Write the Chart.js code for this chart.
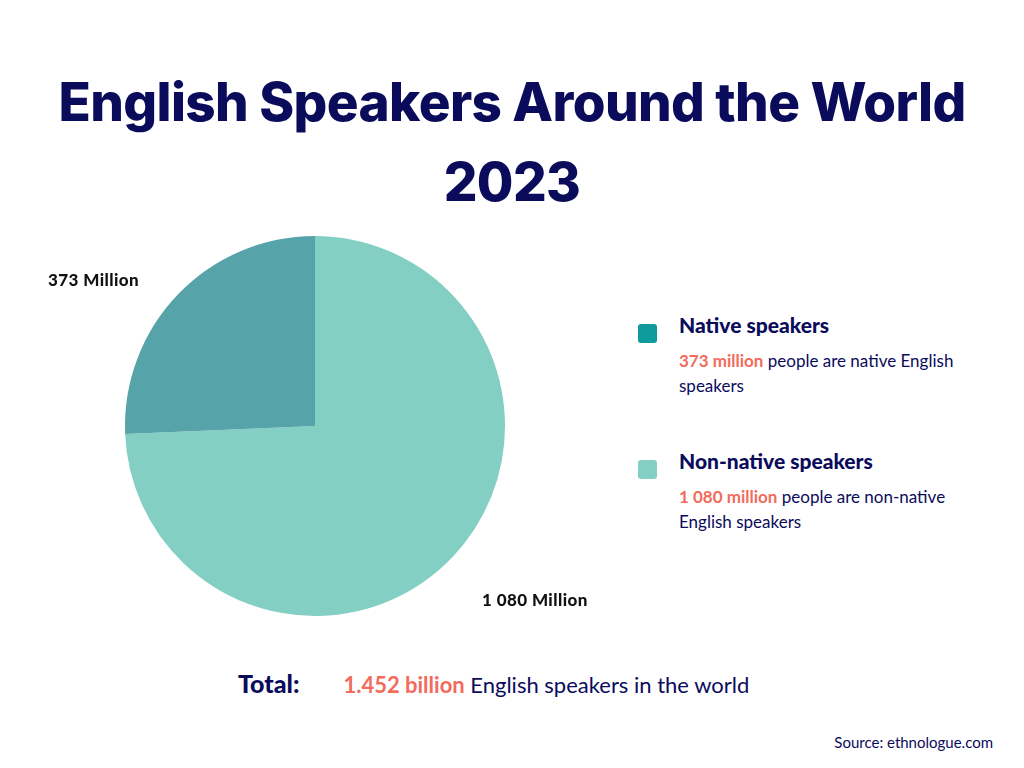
<!DOCTYPE html>
<html>
<head>
<meta charset="utf-8">
<script src="https://cdn.jsdelivr.net/npm/chart.js@4"></script>
<style>
  body { margin: 0; width: 1024px; height: 768px; background: #fff; font-family: Lato, sans-serif; position: relative; overflow: hidden; }
  h1 { position: absolute; top: 62px; left: 0; width: 1024px; margin: 0; text-align: center; color: #0b0b5c; font-family: Inter, sans-serif; font-weight: 800; font-size: 53px; line-height: 80px; letter-spacing: -0.6px; }
  #pieWrap { position: absolute; left: 120px; top: 231px; width: 390px; height: 390px; }
  .lbl { position: absolute; font-weight: 900; font-size: 17px; color: #111; letter-spacing: 0.4px; }
  .leg { position: absolute; left: 638px; color: #0b0b5c; }
  .leg .sq { position: absolute; left: 0; width: 19px; height: 19px; border-radius: 3px; }
  .leg .t { position: absolute; left: 41px; top: -12px; font-weight: 900; font-size: 21px; white-space: nowrap; }
  .leg .d { position: absolute; left: 41px; top: 24px; font-size: 17px; line-height: 25px; width: 300px; }
  .hl { color: #f26b5b; font-weight: 700; }
  #total { position: absolute; top: 668px; left: 238px; font-size: 22px; color: #0b0b5c; white-space: nowrap; }
  #total b { font-weight: 900; font-size: 25px; margin-right: 44px; }
  #src { position: absolute; right: 31px; top: 733px; font-size: 15px; color: #0b0b5c; }
</style>
</head>
<body>
<h1>English Speakers Around the World<br>2023</h1>
<div id="pieWrap"><canvas id="pie"></canvas></div>
<div class="lbl" style="left:48px; top:269px;">373 Million</div>
<div class="lbl" style="left:482px; top:589px;">1 080 Million</div>

<div class="leg" style="top:324px;">
  <div class="sq" style="background:#0f9a9c;"></div>
  <div class="t">Native speakers</div>
  <div class="d"><span class="hl">373 million</span> people are native English speakers</div>
</div>
<div class="leg" style="top:460px;">
  <div class="sq" style="background:#84cfc3;"></div>
  <div class="t">Non-native speakers</div>
  <div class="d"><span class="hl">1 080 million</span> people are non-native English speakers</div>
</div>

<div id="total"><b>Total:</b><span class="hl">1.452 billion</span> English speakers in the world</div>
<div id="src">Source: ethnologue.com</div>

<script>
const categories = ['Non-native speakers', 'Native speakers'];
const speakersMillions = [1080, 373];
const sliceColors = ['#84cfc3', '#56a3aa'];

new Chart(document.getElementById('pie').getContext('2d'), {
  type: 'pie',
  data: {
    labels: categories,
    datasets: [{ data: speakersMillions, backgroundColor: sliceColors, borderWidth: 0 }]
  },
  options: {
    responsive: true,
    maintainAspectRatio: false,
    animation: false,
    layout: { padding: 5 },
    plugins: { legend: { display: false }, tooltip: { enabled: false } }
  }
});
</script>
</body>
</html>
